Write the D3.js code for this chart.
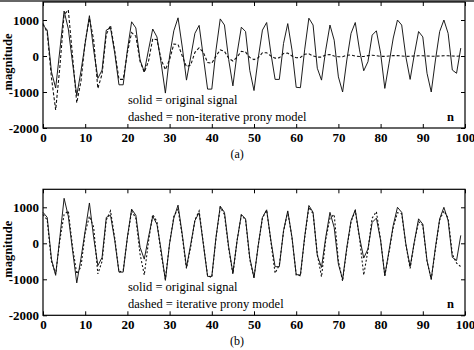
<!DOCTYPE html>
<html><head><meta charset="utf-8">
<script src="https://cdn.jsdelivr.net/npm/d3@7"></script>
<style>body{margin:0;background:#fff}svg{display:block}</style>
</head><body><svg id="c" width="474" height="350"></svg>
<script>
const n = d3.range(0, 100);
const original = [860,720,-440,-890,170,1250,750,-190,-1100,-420,
 350,1120,170,-620,-390,720,780,80,-800,-800,
 170,950,780,-110,-440,170,750,530,-200,-1030,
 0,700,1060,250,-670,-30,630,850,-30,-920,
 -920,170,1030,860,-100,-830,80,800,680,-400,
 -960,-60,720,930,80,-650,-650,350,900,170,
 -870,-880,170,1050,860,-340,-670,170,860,440,
 -580,-1000,-110,630,930,170,-410,-160,580,700,
 80,-900,-200,500,1000,860,-30,-650,50,680,
 530,-480,-1000,-110,680,1000,630,-390,-480,220];
const nonIterative = [900,650,-600,-1500,-300,1150,1280,0,-1300,-700,
 400,1050,450,-900,-500,600,850,150,-650,-650,
 100,650,550,-150,-450,-150,480,450,-100,-380,
 -100,330,320,0,-300,-250,100,230,100,-180,
 -200,0,170,130,-60,-140,-30,130,110,-40,
 -100,-50,90,90,0,-60,-50,70,80,0,
 -50,-40,50,60,0,-30,-30,30,40,0,
 -20,-20,20,30,0,-15,-15,10,20,10,
 -10,-10,0,10,10,0,-10,-5,0,5,
 5,0,-5,-5,0,5,5,0,-5,0];
const iterative = [800,650,-500,-850,100,800,900,-100,-850,-650,
 300,750,450,-850,-500,650,900,150,-800,-750,
 150,900,700,-300,-880,50,800,600,-300,-1000,
 0,750,950,200,-700,-100,650,900,0,-900,
 -950,150,1000,800,-150,-850,80,780,650,-450,
 -950,-60,700,920,50,-830,-600,330,880,150,
 -880,-900,150,1000,820,-300,-930,100,700,800,
 -500,-1050,-150,600,900,150,-880,-200,700,880,
 100,-900,-250,450,850,820,-50,-700,30,600,
 500,-500,-1000,-150,650,900,700,-300,-550,-650];
const xTicks = d3.range(0, 101, 10);
const yTicks = [-2000, -1000, 0, 1000];
const panels = [
  {label: "(a)", model: nonIterative, legend2: "dashed = non-iterative prony model", top: 2, bottom: 128, dash: "3,2"},
  {label: "(b)", model: iterative, legend2: "dashed = iterative prony model", top: 189.3, bottom: 315.3, dash: "2,2"}
];

const svg = d3.select("#c");
const x = d3.scaleLinear([0, 100], [43, 465]);
const serif = "'Liberation Serif','DejaVu Serif',serif";

svg.append("rect").attr("x",0).attr("y",0).attr("width",474).attr("height",2).attr("fill","#666");

panels.forEach(p => {
  const y = d3.scaleLinear([-2000, 1500], [p.bottom, p.top]);
  const g = svg.append("g");
  const fmt = d => d3.format("d")(d).replace("−","-");
  const bottomAx = g.append("g").attr("transform", `translate(0,${p.bottom})`)
    .call(d3.axisBottom(x).tickValues(xTicks).tickSize(-4).tickSizeOuter(0).tickPadding(3).tickFormat(d3.format("d")));
  const topAx = g.append("g").attr("transform", `translate(0,${p.top})`)
    .call(d3.axisTop(x).tickValues(xTicks).tickSize(-4).tickSizeOuter(0).tickFormat(""));
  const leftAx = g.append("g").attr("transform", `translate(${x(0)},0)`)
    .call(d3.axisLeft(y).tickValues(yTicks).tickSize(-4).tickSizeOuter(0).tickPadding(4).tickFormat(fmt));
  const rightAx = g.append("g").attr("transform", `translate(${x(100)},0)`)
    .call(d3.axisRight(y).tickValues(yTicks).tickSize(-4).tickSizeOuter(0).tickFormat(""));
  [bottomAx, topAx, leftAx, rightAx].forEach(a => {
    a.select(".domain").remove();
    a.selectAll("line").attr("stroke","#000").attr("stroke-width",1);
    a.selectAll("text").attr("font-family", serif).attr("font-size", 13).attr("font-weight","bold").attr("fill","#000");
  });
  bottomAx.selectAll("text").attr("dy","0.85em");
  g.append("rect").attr("x", x(0)).attr("y", p.top).attr("width", x(100)-x(0)).attr("height", p.bottom-p.top)
    .attr("fill","none").attr("stroke","#000").attr("stroke-width",1.2);

  const line = d3.line().x((d,i) => x(n[i])).y(d => y(d));
  g.append("path").datum(original).attr("d", line).attr("fill","none").attr("stroke","#111").attr("stroke-width",0.95);
  g.append("path").datum(p.model).attr("d", line).attr("fill","none").attr("stroke","#111").attr("stroke-width",1.1).attr("stroke-dasharray", p.dash);

  g.append("text").attr("transform", `translate(12,${(p.top+p.bottom)/2 - 3}) rotate(-90)`)
    .attr("text-anchor","middle").attr("font-family", serif).attr("font-weight","bold").attr("font-size",12.5).text("magnitude");
  g.append("text").attr("x",128).attr("y", p.bottom - 24).attr("font-family", serif).attr("font-size",12.5).text("solid  = original signal");
  g.append("text").attr("x",128).attr("y", p.bottom - 7).attr("font-family", serif).attr("font-size",12.5).text(p.legend2);
  g.append("text").attr("x",447).attr("y", p.bottom - 7).attr("font-family", serif).attr("font-size",12.5).attr("font-weight","bold").text("n");
  g.append("text").attr("x",x(46)).attr("y", p.bottom + 30).attr("text-anchor","middle").attr("font-family", serif).attr("font-size",12).text(p.label);
});
</script></body></html>
